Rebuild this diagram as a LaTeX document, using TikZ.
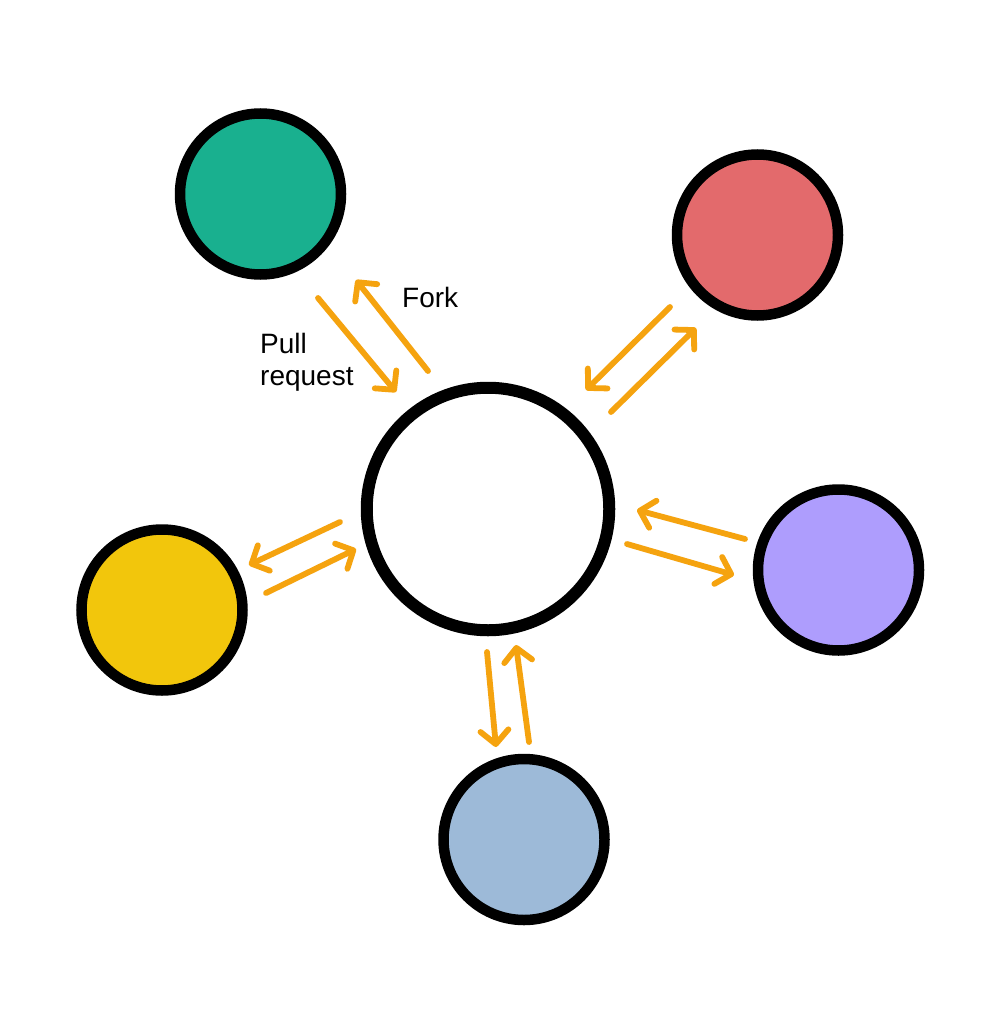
\documentclass[tikz,border=0pt]{standalone}
\usepackage{fontspec}
\setmainfont{Liberation Sans}
\usetikzlibrary{arrows.meta}
\definecolor{arrowc}{HTML}{F5A30F}
\definecolor{cgreen}{HTML}{19B08F}
\definecolor{cred}{HTML}{E36A6C}
\definecolor{cpurple}{HTML}{AE9DFD}
\definecolor{cblue}{HTML}{9DBAD8}
\definecolor{cyellow}{HTML}{F2C60C}
\tikzset{
 disc/.style={circle,draw=black,line width=10.5pt,inner sep=0pt,minimum size=161pt},
 hubdisc/.style={disc,line width=12pt,minimum size=242.5pt,fill=white},
 flow/.style={draw=arrowc,line width=5.8pt,line cap=round,-{Straight Barb[round,length=13.5pt,width=28pt,line width=5.8pt]}},
 lbl/.style={font=\fontsize{28}{32}\selectfont,align=left,inner sep=0pt,anchor=base west}
}
\begin{document}
\begin{tikzpicture}[x=1pt,y=-1pt]
\useasboundingbox (0,0) rectangle (1000,1011);
\fill[white] (0,0) rectangle (1000,1011);
\node[hubdisc] (hub) at (488,509) {};
\node[disc,fill=cgreen] (green) at (260.5,194) {};
\node[disc,fill=cred] (red) at (757.5,235) {};
\node[disc,fill=cpurple] (purple) at (838.5,570) {};
\node[disc,fill=cblue] (blue) at (524,839.5) {};
\node[disc,fill=cyellow] (yellow) at (162,610) {};
\coordinate (a1) at (318,298); \coordinate (a2) at (396,392);
\coordinate (b1) at (428,371); \coordinate (b2) at (356,280);
\coordinate (c1) at (670,307); \coordinate (c2) at (586,390);
\coordinate (d1) at (611,412); \coordinate (d2) at (696,328);
\coordinate (e1) at (745,539); \coordinate (e2) at (637,510);
\coordinate (f1) at (627,544); \coordinate (f2) at (734,575);
\coordinate (g1) at (529,742); \coordinate (g2) at (516,645);
\coordinate (h1) at (487,652); \coordinate (h2) at (496,747);
\coordinate (i1) at (340,522); \coordinate (i2) at (249,565);
\coordinate (j1) at (266,593); \coordinate (j2) at (356,549);
\draw[flow] (a1) -- (a2);
\draw[flow] (b1) -- (b2);
\draw[flow] (c1) -- (c2);
\draw[flow] (d1) -- (d2);
\draw[flow] (e1) -- (e2);
\draw[flow] (f1) -- (f2);
\draw[flow] (g1) -- (g2);
\draw[flow] (h1) -- (h2);
\draw[flow] (i1) -- (i2);
\draw[flow] (j1) -- (j2);
\node[lbl] (fork) at (402,307) {Fork};
\node[lbl] (pull) at (260,385) {Pull\\request};
\end{tikzpicture}
\end{document}
